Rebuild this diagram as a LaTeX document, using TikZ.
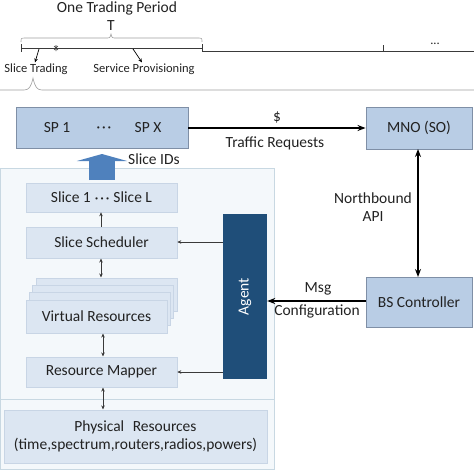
\documentclass[tikz,border=0pt]{standalone}
\usepackage{fontspec}
\setmainfont{Carlito}
\usetikzlibrary{arrows.meta,calc}
\definecolor{spfill}{HTML}{B9CDE5}
\definecolor{spdraw}{HTML}{7F8FA6}
\definecolor{infill}{HTML}{DCE6F2}
\definecolor{indraw}{HTML}{C8D5E5}
\definecolor{contfill}{HTML}{F4F8FB}
\definecolor{contdraw}{HTML}{C8D8E2}
\definecolor{agentc}{HTML}{1F4E79}
\definecolor{bigarrow}{HTML}{4F81BD}
\definecolor{txt}{HTML}{222222}
\definecolor{tlc}{HTML}{3A3A3A}
\definecolor{brc}{HTML}{A0A0A0}
\newcommand{\mydots}{{\boldmath$\cdot\!\cdot\!\cdot$}}
\begin{document}
\begin{tikzpicture}[x=1pt,y=-1pt,
  every node/.style={text=txt, inner sep=0pt},
  bodyfont/.style={font=\fontsize{15.5}{18.5}\selectfont},
  smallfont/.style={font=\fontsize{12.5}{15}\selectfont},
  outerbox/.style={draw=spdraw, fill=spfill, line width=0.9pt, bodyfont},
  innerbox/.style={draw=indraw, fill=infill, line width=0.6pt, bodyfont},
  thick arrow/.style={line width=2pt, -{Stealth[length=8pt,width=6pt]}, draw=black},
  thick double/.style={line width=2pt, {Stealth[length=8pt,width=6pt]}-{Stealth[length=8pt,width=6pt]}, draw=black},
  thin arrow/.style={line width=0.7pt, -{Stealth[length=4pt,width=3.5pt]}, draw=tlc},
  thin double/.style={line width=0.7pt, {Stealth[length=4pt,width=3.5pt]}-{Stealth[length=4pt,width=3.5pt]}, draw=tlc},
  tline/.style={line width=0.9pt, draw=tlc},
  bline/.style={line width=0.6pt, draw=brc}
]
\useasboundingbox (0,0) rectangle (474,474);

% ---------- timeline ----------
\node[bodyfont] (title) at (117,8) {One Trading Period};
\node[bodyfont] (tT) at (111,26) {T};
\draw[bline] (21,42) .. controls (21,38) .. (26,38) -- (106,38) .. controls (110,38) .. (111,34) .. controls (112,38) .. (116,38) -- (197,38) .. controls (202,38) .. (202,42);
\coordinate (t0) at (21,48);
\coordinate (t1) at (56,48);
\coordinate (t2) at (202,48);
\coordinate (t3) at (202,51);
\coordinate (t4) at (474,51);
\coordinate (t5) at (383,51);
\draw[tline] (t0) -- (t2);
\draw[tline] ($(t0)+(0,-4)$) -- ($(t0)+(0,4)$);
\draw[tline] ($(t2)+(0,-4)$) -- ($(t2)+(0,4)$);
\draw[tline] (t3) -- (t4);
\draw[tline] (t5) -- ($(t5)+(0,-6)$);
\draw[line width=0.7pt, draw=tlc] ($(t1)+(-2,-2)$) -- ($(t1)+(2,2)$) ($(t1)+(-2,2)$) -- ($(t1)+(2,-2)$) ($(t1)+(0,-3)$) -- ($(t1)+(0,3)$);
\node[smallfont] (dots) at (435,44) {...};
\node[smallfont] (st) at (36,69) {Slice Trading};
\node[smallfont] (spv) at (144,69) {Service Provisioning};
\coordinate (a1) at (39,49);
\coordinate (a2) at (133,49);
\draw[thin arrow, draw=black] (a1) -- ($(st.north)+(-1,-1)$);
\draw[thin arrow, draw=black] (a2) -- ($(spv.north)+(-2,-1)$);
\draw[bline] (0,90) -- (24,90) .. controls (29,90) and (31,87) .. (33,78) .. controls (35,87) and (37,90) .. (42,90) -- (474,90);

% ---------- container ----------
\node[draw=contdraw, fill=contfill, line width=0.8pt, minimum width=274pt, minimum height=301pt] (cont) at (137.5,318.5) {};
\draw[draw=contdraw, line width=0.5pt] (0.5,399) -- (275,399);

% ---------- top row ----------
\node[outerbox, minimum width=172pt, minimum height=41pt] (sp) at (102,127.5) {};
\node[bodyfont] (sp1) at (57,128) {SP 1};
\node[bodyfont] (spd) at (104,128) {\mydots};
\node[bodyfont] (spx) at (148,128) {SP X};
\node[outerbox, minimum width=106pt, minimum height=42pt] (mno) at (419,128) {MNO (SO)};
\node[outerbox, minimum width=106pt, minimum height=50pt] (bs) at (419,302) {BS Controller};

\draw[thick arrow] (sp.east |- 0,128) -- (mno.west |- 0,128);
\node[bodyfont] (dollar) at (277,117) {\$};
\node[bodyfont] (traffic) at (275,143) {Traffic Requests};

\draw[thick double] (418,149) -- (418,277);
\node[bodyfont, align=center] (nb) at (373,207) {Northbound\\API};

% ---------- inner boxes ----------
\node[innerbox, minimum width=151pt, minimum height=29pt] (slices) at (101.5,197.5) {Slice 1 \mydots\ Slice L};
\node[innerbox, minimum width=151pt, minimum height=31pt] (sched) at (101.5,242.5) {Slice Scheduler};
\node[innerbox, minimum width=141pt, minimum height=33pt] (v3) at (106.4,294.6) {};
\node[innerbox, minimum width=141pt, minimum height=33pt] (v2) at (103.1,301.9) {};
\node[innerbox, minimum width=141pt, minimum height=33pt] (v1) at (99.8,309.2) {};
\node[innerbox, minimum width=141pt, minimum height=33pt] (virt) at (96.5,316.5) {Virtual Resources};
\node[innerbox, minimum width=151pt, minimum height=30pt] (mapper) at (101.5,372) {Resource Mapper};
\node[innerbox, minimum width=263pt, minimum height=53pt, align=center] (phys) at (135.5,436.5) {Physical\hspace{0.55em}Resources\\(time,spectrum,routers,radios,powers)};
\node[fill=agentc, minimum width=44pt, minimum height=165pt] (agent) at (245,296.5) {};
\node[bodyfont, rotate=90, text=white] (agentlbl) at (agent.center) {Agent};

% big blue arrow
\draw[bigarrow, line width=26pt, -{Triangle[width=50pt,length=7pt]}] (102,180) -- (102,154);
\node[bodyfont, anchor=west] (ids) at (128,159) {Slice IDs};

% inner arrows
\draw[thin arrow] (sched.north -| 101,0) -- (slices.south -| 101,0);
\draw[thin double] (101,258.5) -- (101,277.5);
\draw[thin double] (103,333.5) -- (103,356.5);
\draw[thin double] (103,387.5) -- (103,409.5);
\draw[thin arrow] (agent.west |- 0,242) -- (sched.east |- 0,242);
\draw[thin arrow] (agent.west |- 0,372) -- (mapper.east |- 0,372);

% BS -> agent
\draw[thick arrow] (bs.west |- 0,301) -- (agent.east |- 0,301);
\node[bodyfont] (msg) at (318,289) {Msg};
\node[bodyfont] (conf) at (317,311) {Configuration};
\end{tikzpicture}
\end{document}
